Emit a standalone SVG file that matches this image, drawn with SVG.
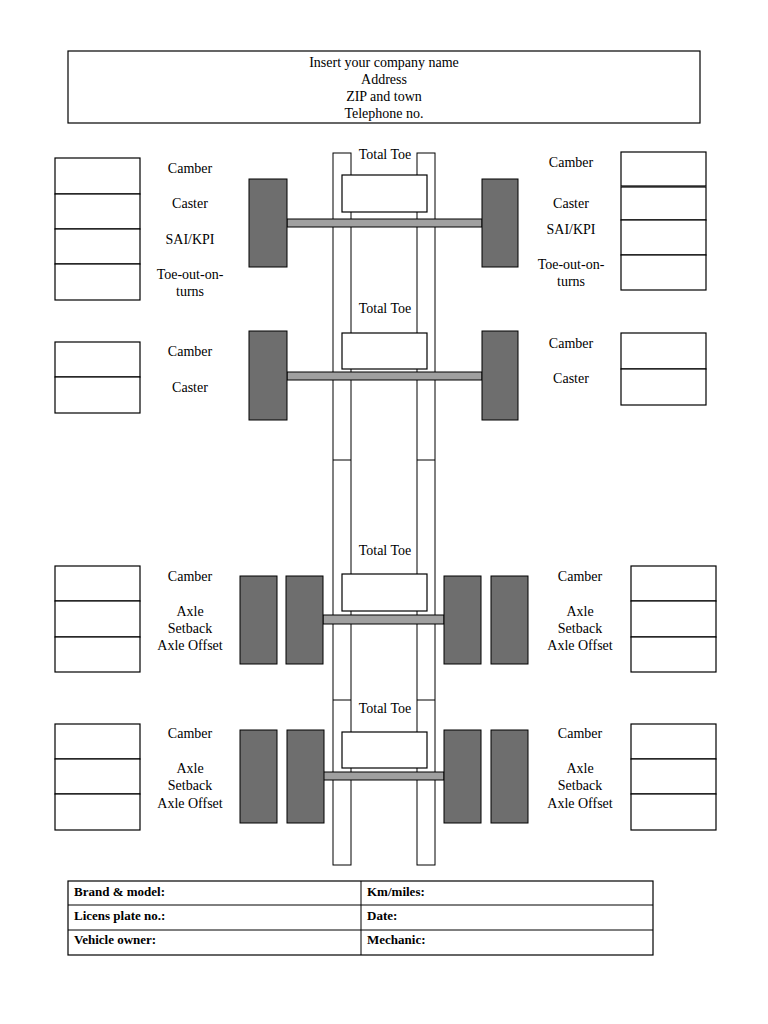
<svg xmlns="http://www.w3.org/2000/svg" width="768" height="1024" viewBox="0 0 768 1024">
<style>
text{font-family:"Liberation Serif",serif;font-size:14px;fill:#000}
.c{text-anchor:middle}
.b{font-weight:bold;font-size:13px}
.box{fill:#fff;stroke:#000;stroke-width:1.2}
.w{fill:#6e6e6e;stroke:#000;stroke-width:1}
.ax{fill:#a0a0a0;stroke:#000;stroke-width:1}
.rail{fill:#fff;stroke:#000;stroke-width:1}
</style>
<rect width="768" height="1024" fill="#fff"/>
<g id="header"><rect class="box" x="68" y="51" width="632" height="72"/>
<text class="c" x="384" y="67">Insert your company name</text><text class="c" x="384" y="84">Address</text><text class="c" x="384" y="101">ZIP and town</text><text class="c" x="384" y="118">Telephone no.</text></g>
<g id="frame">
<rect class="rail" x="333" y="153" width="18" height="712"/><rect class="rail" x="417" y="153" width="18" height="712"/>
<line x1="333" y1="460" x2="351" y2="460" stroke="#000"/><line x1="417" y1="460" x2="435" y2="460" stroke="#000"/>
<line x1="333" y1="700" x2="351" y2="700" stroke="#000"/><line x1="417" y1="700" x2="435" y2="700" stroke="#000"/>
</g>
<g id="connectors">
<rect class="ax" x="287" y="219" width="195" height="8"/>
<rect class="ax" x="287" y="372" width="195" height="8"/>
<rect class="ax" x="323" y="615" width="121" height="9"/>
<rect class="ax" x="323" y="772" width="121" height="8"/>
</g>
<g id="wheels">
<rect class="w" x="249" y="179" width="38" height="88"/><rect class="w" x="482" y="179" width="36" height="88"/>
<rect class="w" x="249" y="331" width="38" height="89"/><rect class="w" x="482" y="331" width="36" height="89"/>
<rect class="w" x="240" y="576" width="37" height="88"/><rect class="w" x="286" y="576" width="37" height="88"/><rect class="w" x="444" y="576" width="37" height="88"/><rect class="w" x="491" y="576" width="37" height="88"/>
<rect class="w" x="240" y="730" width="37" height="93"/><rect class="w" x="287" y="730" width="37" height="93"/><rect class="w" x="444" y="730" width="37" height="93"/><rect class="w" x="491" y="730" width="37" height="93"/>
</g>
<g id="toe">
<rect fill="#fff" x="352" y="145" width="64" height="18"/><text class="c" x="385" y="159">Total Toe</text><rect class="box" x="342" y="175" width="85" height="37"/>
<rect fill="#fff" x="352" y="299" width="64" height="18"/><text class="c" x="385" y="313">Total Toe</text><rect class="box" x="342" y="333" width="85" height="36"/>
<rect fill="#fff" x="352" y="541" width="64" height="18"/><text class="c" x="385" y="555">Total Toe</text><rect class="box" x="342" y="574" width="85" height="37"/>
<rect fill="#fff" x="352" y="699" width="64" height="18"/><text class="c" x="385" y="713">Total Toe</text><rect class="box" x="342" y="732" width="85" height="36"/>
</g>
<g id="left1"><rect class="box" x="55" y="158" width="85" height="36"/><rect class="box" x="55" y="194" width="85" height="35"/><rect class="box" x="55" y="229" width="85" height="35"/><rect class="box" x="55" y="264" width="85" height="36"/>
<text class="c" x="190" y="173">Camber</text><text class="c" x="190" y="208">Caster</text><text class="c" x="190" y="244">SAI/KPI</text><text class="c" x="190" y="279">Toe-out-on-</text><text class="c" x="190" y="296">turns</text></g>
<g id="right1"><rect class="box" x="621" y="152" width="85" height="34"/><rect class="box" x="621" y="187" width="85" height="33"/><rect class="box" x="621" y="220" width="85" height="35"/><rect class="box" x="621" y="255" width="85" height="35"/>
<text class="c" x="571" y="167">Camber</text><text class="c" x="571" y="208">Caster</text><text class="c" x="571" y="234">SAI/KPI</text><text class="c" x="571" y="269">Toe-out-on-</text><text class="c" x="571" y="286">turns</text></g>
<g id="left2"><rect class="box" x="55" y="342" width="85" height="35"/><rect class="box" x="55" y="377" width="85" height="36"/>
<text class="c" x="190" y="356">Camber</text><text class="c" x="190" y="392">Caster</text></g>
<g id="right2"><rect class="box" x="621" y="333" width="85" height="36"/><rect class="box" x="621" y="369" width="85" height="36"/>
<text class="c" x="571" y="348">Camber</text><text class="c" x="571" y="383">Caster</text></g>
<g id="left3"><rect class="box" x="55" y="566" width="85" height="35"/><rect class="box" x="55" y="601" width="85" height="36"/><rect class="box" x="55" y="637" width="85" height="35"/>
<text class="c" x="190" y="581">Camber</text><text class="c" x="190" y="616">Axle</text><text class="c" x="190" y="633">Setback</text><text class="c" x="190" y="650">Axle Offset</text></g>
<g id="right3"><rect class="box" x="631" y="566" width="85" height="35"/><rect class="box" x="631" y="601" width="85" height="36"/><rect class="box" x="631" y="637" width="85" height="35"/>
<text class="c" x="580" y="581">Camber</text><text class="c" x="580" y="616">Axle</text><text class="c" x="580" y="633">Setback</text><text class="c" x="580" y="650">Axle Offset</text></g>
<g id="left4"><rect class="box" x="55" y="724" width="85" height="35"/><rect class="box" x="55" y="759" width="85" height="35"/><rect class="box" x="55" y="794" width="85" height="36"/>
<text class="c" x="190" y="738">Camber</text><text class="c" x="190" y="773">Axle</text><text class="c" x="190" y="790">Setback</text><text class="c" x="190" y="808">Axle Offset</text></g>
<g id="right4"><rect class="box" x="631" y="724" width="85" height="35"/><rect class="box" x="631" y="759" width="85" height="35"/><rect class="box" x="631" y="794" width="85" height="36"/>
<text class="c" x="580" y="738">Camber</text><text class="c" x="580" y="773">Axle</text><text class="c" x="580" y="790">Setback</text><text class="c" x="580" y="808">Axle Offset</text></g>
<g id="table"><rect class="box" x="68" y="881" width="585" height="74"/>
<line x1="68" y1="905" x2="653" y2="905" stroke="#000"/><line x1="68" y1="930" x2="653" y2="930" stroke="#000"/><line x1="361" y1="881" x2="361" y2="955" stroke="#000"/>
<text class="b" x="74" y="896">Brand &amp; model:</text><text class="b" x="367" y="896">Km/miles:</text>
<text class="b" x="74" y="920">Licens plate no.:</text><text class="b" x="367" y="920">Date:</text>
<text class="b" x="74" y="944">Vehicle owner:</text><text class="b" x="367" y="944">Mechanic:</text></g>
</svg>
